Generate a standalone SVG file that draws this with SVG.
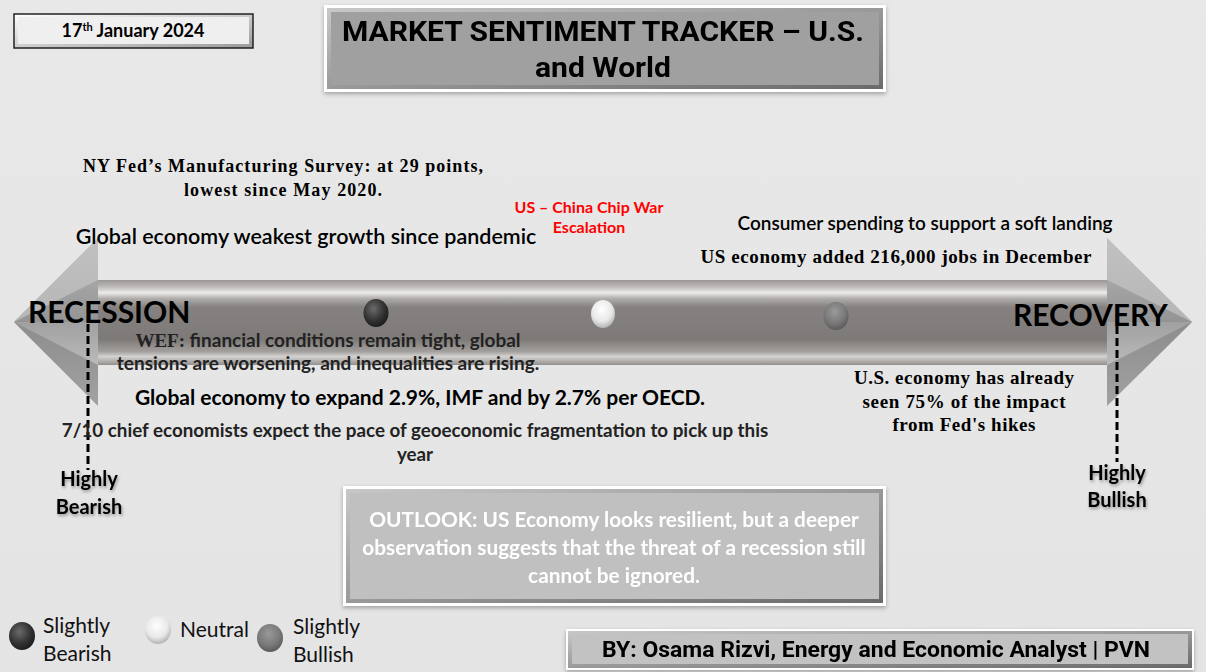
<svg xmlns="http://www.w3.org/2000/svg" width="1206" height="672" viewBox="0 0 1206 672">
<defs>
<linearGradient id="bg" x1="0" y1="0" x2="0" y2="1"><stop offset="0" stop-color="#e8e8e8"/><stop offset="1" stop-color="#e4e4e4"/></linearGradient>
<linearGradient id="shaft" x1="0" y1="0" x2="0" y2="1">
<stop offset="0" stop-color="#9a9796"/><stop offset="0.08" stop-color="#bdbab8"/><stop offset="0.15" stop-color="#ecebea"/><stop offset="0.22" stop-color="#aeaba9"/><stop offset="0.32" stop-color="#858180"/><stop offset="0.7" stop-color="#7e7a78"/><stop offset="0.84" stop-color="#a19e9c"/><stop offset="0.9" stop-color="#d4d2d0"/><stop offset="1" stop-color="#928f8d"/></linearGradient>
<linearGradient id="headTop" x1="0" y1="0" x2="0" y2="1"><stop offset="0" stop-color="#b8b8b8"/><stop offset="1" stop-color="#949494"/></linearGradient>
<linearGradient id="headBot" x1="0" y1="0" x2="0" y2="1"><stop offset="0" stop-color="#a0a0a0"/><stop offset="1" stop-color="#d4d4d4"/></linearGradient>
<radialGradient id="bDark" cx="0.4" cy="0.35" r="0.7"><stop offset="0" stop-color="#6a6a6a"/><stop offset="0.6" stop-color="#333"/><stop offset="1" stop-color="#1a1a1a"/></radialGradient>
<radialGradient id="bWhite" cx="0.45" cy="0.35" r="0.7"><stop offset="0" stop-color="#ffffff"/><stop offset="0.6" stop-color="#e8e8e8"/><stop offset="1" stop-color="#a8a8a8"/></radialGradient>
<radialGradient id="bGray" cx="0.45" cy="0.35" r="0.7"><stop offset="0" stop-color="#9a9a9a"/><stop offset="0.6" stop-color="#7a7878"/><stop offset="1" stop-color="#555"/></radialGradient>
<linearGradient id="bevelLight" x1="0" y1="0" x2="1" y2="1"><stop offset="0" stop-color="#ffffff"/><stop offset="1" stop-color="#9a9a9a"/></linearGradient>
<linearGradient id="bevelGray" x1="0" y1="0" x2="1" y2="1"><stop offset="0" stop-color="#c8c8c8"/><stop offset="1" stop-color="#6a6a6a"/></linearGradient>
<filter id="sh" x="-20%" y="-20%" width="140%" height="140%"><feGaussianBlur in="SourceAlpha" stdDeviation="1.5"/><feOffset dx="1" dy="2" result="b"/><feFlood flood-color="#000" flood-opacity="0.35"/><feComposite in2="b" operator="in"/><feMerge><feMergeNode/><feMergeNode in="SourceGraphic"/></feMerge></filter>
<filter id="bs" x="-10%" y="-10%" width="120%" height="130%"><feGaussianBlur in="SourceAlpha" stdDeviation="2"/><feOffset dx="0" dy="2" result="b"/><feFlood flood-color="#000" flood-opacity="0.3"/><feComposite in2="b" operator="in"/><feMerge><feMergeNode/><feMergeNode in="SourceGraphic"/></feMerge></filter>
</defs>
<style>
.cal{font-family:Lato,"Open Sans",sans-serif;}
.ser{font-family:"Liberation Serif","DejaVu Serif",serif;font-weight:bold;}
.rob{font-family:Roboto,"Liberation Sans",sans-serif;font-weight:bold;}
.dash{stroke:#000;stroke-width:3;stroke-dasharray:8,4;fill:none;}
.red{fill:#ff0000;}
</style>
<rect width="1206" height="672" fill="url(#bg)"/>

<g id="date">
<rect x="14" y="14" width="239" height="34" fill="url(#bevelLight)" stroke="#222" stroke-width="1.5"/>
<rect x="18" y="17" width="231" height="27" fill="#efefef"/>
<text x="133" y="37" text-anchor="middle" class="cal" font-weight="bold" font-size="18">17<tspan font-size="11" dy="-6">th</tspan><tspan dy="6"> January 2024</tspan></text>
</g>

<g id="title" filter="url(#bs)">
<rect x="324" y="5" width="562" height="87" fill="#fff"/>
<rect x="327" y="8" width="556" height="81" fill="url(#bevelGray)"/>
<rect x="331" y="12" width="548" height="73" fill="#a0a0a0"/>
<text x="603" y="41" text-anchor="middle" class="rob" font-size="28" textLength="522" lengthAdjust="spacingAndGlyphs">MARKET SENTIMENT TRACKER – U.S.</text>
<text x="603" y="77" text-anchor="middle" class="rob" font-size="28" textLength="136" lengthAdjust="spacingAndGlyphs">and World</text>
</g>

<g id="arrow">
<rect x="96" y="280" width="1013" height="85" fill="url(#shaft)"/>
<polygon points="98,238 14,322 98,322" fill="url(#headTop)"/>
<polygon points="98,322 14,322 98,406" fill="url(#headBot)"/>
<polygon points="98,238 14,322 98,280" fill="#c4c4c4" opacity="0.7"/>
<polygon points="98,406 14,322 98,365" fill="#808080" opacity="0.6"/>
<polygon points="1107,238 1192,322 1107,322" fill="url(#headTop)"/>
<polygon points="1107,322 1192,322 1107,406" fill="url(#headBot)"/>
<polygon points="1107,238 1192,322 1107,280" fill="#c4c4c4" opacity="0.7"/>
<polygon points="1107,406 1192,322 1107,365" fill="#808080" opacity="0.6"/>
</g>

<g id="balls">
<ellipse cx="376" cy="313" rx="12.5" ry="14" fill="url(#bDark)"/>
<ellipse cx="603" cy="314" rx="12" ry="14" fill="url(#bWhite)"/>
<ellipse cx="836" cy="316" rx="12.5" ry="14" fill="url(#bGray)"/>
</g>

<g id="connectors">
<line x1="88" y1="324" x2="88" y2="470" class="dash"/>
<line x1="1117" y1="326" x2="1117" y2="462" class="dash"/>
</g>

<g id="recession">
<text x="28" y="323" class="cal" font-weight="bold" font-size="30">RECESSION</text>
</g>
<g id="recovery">
<text x="1013" y="326" class="cal" font-weight="bold" font-size="30">RECOVERY</text>
</g>

<g id="nyfed">
<text x="283" y="172" text-anchor="middle" class="ser" font-size="18" textLength="400" lengthAdjust="spacing">NY Fed’s Manufacturing Survey: at 29 points,</text>
<text x="283" y="196" text-anchor="middle" class="ser" font-size="18" textLength="198" lengthAdjust="spacing">lowest since May 2020.</text>
</g>
<g id="global-weak">
<text x="306" y="244" text-anchor="middle" class="cal" font-weight="600" font-size="21.5">Global economy weakest growth since pandemic</text>
</g>
<g id="chipwar">
<text x="589" y="213" text-anchor="middle" class="cal red" font-weight="bold" font-size="16" fill="#ff0000" style="fill:#ff0000">US – China Chip War</text>
<text x="589" y="233" text-anchor="middle" class="cal red" font-weight="bold" font-size="16" fill="#ff0000" style="fill:#ff0000">Escalation</text>
</g>
<g id="consumer">
<text x="925" y="230" text-anchor="middle" class="cal" font-weight="600" font-size="19">Consumer spending to support a soft landing</text>
</g>
<g id="jobs">
<text x="896" y="263" text-anchor="middle" class="ser" font-size="19" textLength="391" lengthAdjust="spacing">US economy added 216,000 jobs in December</text>
</g>
<g id="wef">
<text x="328" y="347" text-anchor="middle" class="cal" font-weight="bold" font-size="19" fill="#222"><tspan class="ser" font-size="19">WEF:</tspan> financial conditions remain tight, global</text>
<text x="328" y="370" text-anchor="middle" class="cal" font-weight="bold" font-size="19" fill="#222">tensions are worsening, and inequalities are rising.</text>
</g>
<g id="imf">
<text x="420" y="405" text-anchor="middle" class="cal" font-weight="bold" font-size="21">Global economy to expand 2.9%, IMF and by 2.7% per OECD.</text>
</g>
<g id="chief">
<text x="415" y="437" text-anchor="middle" class="cal" font-weight="bold" font-size="18.8" fill="#222">7/10 chief economists expect the pace of geoeconomic fragmentation to pick up this</text>
<text x="415" y="461" text-anchor="middle" class="cal" font-weight="bold" font-size="18.8" fill="#222">year</text>
</g>
<g id="fedhikes">
<text x="964" y="384" text-anchor="middle" class="ser" font-size="19" textLength="220" lengthAdjust="spacing">U.S. economy has already</text>
<text x="964" y="408" text-anchor="middle" class="ser" font-size="19" textLength="203" lengthAdjust="spacing">seen 75% of the impact</text>
<text x="964" y="431" text-anchor="middle" class="ser" font-size="19" textLength="143" lengthAdjust="spacing">from Fed's hikes</text>
</g>
<g id="highly-bearish" filter="url(#sh)">
<text x="89" y="486" text-anchor="middle" class="cal" font-weight="bold" font-size="20">Highly</text>
<text x="89" y="514" text-anchor="middle" class="cal" font-weight="bold" font-size="20">Bearish</text>
</g>
<g id="highly-bullish" filter="url(#sh)">
<text x="1117" y="480" text-anchor="middle" class="cal" font-weight="bold" font-size="20">Highly</text>
<text x="1117" y="507" text-anchor="middle" class="cal" font-weight="bold" font-size="20">Bullish</text>
</g>

<g id="outlook" filter="url(#bs)">
<rect x="343" y="486" width="543" height="120" fill="#fff"/>
<rect x="346" y="489" width="537" height="114" fill="url(#bevelGray)"/>
<rect x="350" y="493" width="529" height="106" fill="#c0c0c0"/>
<text x="614" y="527" text-anchor="middle" class="cal" font-weight="bold" font-size="20.8" fill="#fff">OUTLOOK: US Economy looks resilient, but a deeper</text>
<text x="614" y="555" text-anchor="middle" class="cal" font-weight="bold" font-size="20.8" fill="#fff">observation suggests that the threat of a recession still</text>
<text x="614" y="583" text-anchor="middle" class="cal" font-weight="bold" font-size="20.8" fill="#fff">cannot be ignored.</text>
</g>

<g id="legend">
<ellipse cx="22" cy="636" rx="13" ry="14" fill="url(#bDark)"/>
<text x="43" y="633" class="cal" font-size="21" fill="#111">Slightly</text>
<text x="43" y="661" class="cal" font-size="21" fill="#111">Bearish</text>
<ellipse cx="158" cy="630" rx="13" ry="14" fill="url(#bWhite)"/>
<text x="180" y="637" class="cal" font-size="21" fill="#111">Neutral</text>
<ellipse cx="270" cy="638" rx="13" ry="14" fill="url(#bGray)"/>
<text x="293" y="634" class="cal" font-size="21" fill="#111">Slightly</text>
<text x="293" y="662" class="cal" font-size="21" fill="#111">Bullish</text>
</g>

<g id="author" filter="url(#bs)">
<rect x="566" y="629" width="628" height="41" fill="#fff"/>
<rect x="568" y="631" width="624" height="37" fill="url(#bevelGray)"/>
<rect x="572" y="634" width="616" height="30" fill="#c2c2c2"/>
<text x="876" y="657" text-anchor="middle" class="rob" font-size="22" textLength="548" lengthAdjust="spacingAndGlyphs">BY: Osama Rizvi, Energy and Economic Analyst | PVN</text>
</g>
</svg>
